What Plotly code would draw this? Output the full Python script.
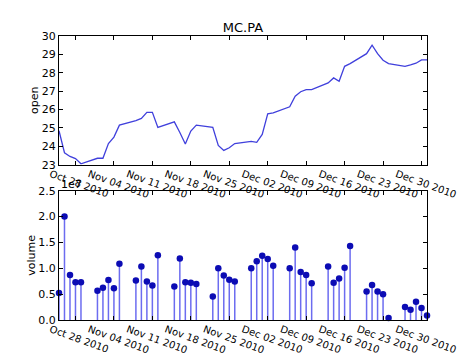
import plotly.graph_objects as go
from plotly.subplots import make_subplots

dates = [
    "2010-10-25", "2010-10-26", "2010-10-27", "2010-10-28", "2010-10-29",
    "2010-11-01", "2010-11-02", "2010-11-03", "2010-11-04", "2010-11-05",
    "2010-11-08", "2010-11-09", "2010-11-10", "2010-11-11", "2010-11-12",
    "2010-11-15", "2010-11-16", "2010-11-17", "2010-11-18", "2010-11-19",
    "2010-11-22", "2010-11-23", "2010-11-24", "2010-11-25", "2010-11-26",
    "2010-11-29", "2010-11-30", "2010-12-01", "2010-12-02", "2010-12-03",
    "2010-12-06", "2010-12-07", "2010-12-08", "2010-12-09", "2010-12-10",
    "2010-12-13", "2010-12-14", "2010-12-15", "2010-12-16", "2010-12-17",
    "2010-12-20", "2010-12-21", "2010-12-22", "2010-12-23", "2010-12-24",
    "2010-12-27", "2010-12-28", "2010-12-29", "2010-12-30", "2010-12-31",
]

open_prices = [
    24.85, 23.65, 23.45, 23.33, 23.05,
    23.35, 23.35, 24.15, 24.50, 25.15,
    25.40, 25.52, 25.85, 25.85, 25.03,
    25.33, 24.75, 24.13, 24.83, 25.15,
    25.03, 24.05, 23.78, 23.92, 24.15,
    24.27, 24.22, 24.65, 25.77, 25.82,
    26.15, 26.73, 26.97, 27.08, 27.08,
    27.45, 27.72, 27.54, 28.35, 28.50,
    29.04, 29.50, 29.04, 28.68, 28.50,
    28.35, 28.43, 28.52, 28.70, 28.70,
]

volume = [
    5200000, 20000000, 8700000, 7300000, 7300000,
    5650000, 6250000, 7750000, 6150000, 10900000,
    7650000, 10350000, 7450000, 6650000, 12500000,
    6500000, 11900000, 7300000, 7200000, 6950000,
    4550000, 10000000, 8600000, 7800000, 7450000,
    10000000, 11350000, 12400000, 11800000, 10500000,
    10000000, 14000000, 9300000, 8700000, 7100000,
    10350000, 7200000, 8000000, 10100000, 14300000,
    5500000, 6750000, 5500000, 5000000, 400000,
    2500000, 2000000, 3550000, 2300000, 850000,
]

title_text = "MC.PA"
open_label = "open"
volume_label = "volume"
offset_text = "1e7"
vol_tickvals = [0, 5000000, 10000000, 15000000, 20000000, 25000000]
vol_ticktext = ["0.0", "0.5", "1.0", "1.5", "2.0", "2.5"]

FONT = "DejaVu Sans"

# page body has an 8px margin; compensate so the figure lands where the reference is
W, H = 466, 347
L, R, T, B = 51, 47, 28, 35

fig = make_subplots(rows=2, cols=1, shared_xaxes=False, vertical_spacing=0.09)

fig.add_trace(go.Scatter(x=dates, y=open_prices, mode="lines",
                         line=dict(color="#4040dc", width=1.3),
                         showlegend=False, hoverinfo="skip"), row=1, col=1)

# stems built from the data
stem_x, stem_y = [], []
for d, v in zip(dates, volume):
    stem_x += [d, d, None]
    stem_y += [0, v, None]
fig.add_trace(go.Scatter(x=stem_x, y=stem_y, mode="lines",
                         line=dict(color="#6c6cf0", width=1.5),
                         showlegend=False, hoverinfo="skip"), row=2, col=1)
fig.add_trace(go.Scatter(x=dates, y=volume, mode="markers",
                         marker=dict(color="#0c0cb4", size=6.5),
                         showlegend=False, hoverinfo="skip", cliponaxis=False), row=2, col=1)

xcommon = dict(
    type="date", range=["2010-10-25", "2010-12-31"],
    tick0="2010-10-28", dtick=7 * 24 * 3600 * 1000, tickformat="%b %d %Y",
    tickangle=20, ticks="inside", ticklen=4, tickcolor="black",
    showline=True, linecolor="black", linewidth=1, mirror="allticks",
    showgrid=False, zeroline=False, automargin=False,
    tickfont=dict(family=FONT, size=10, color="black"),
    ticklabelshift=-25, ticklabelstandoff=-1,
)
fig.update_xaxes(**xcommon)
fig.update_xaxes(domain=[0, 1])

ph = H - T - B
top_lo = (H - B - (164.7 - 8)) / ph
bot_hi = (H - B - (190.7 - 8)) / ph

ycommon = dict(
    ticks="inside", ticklen=4, tickcolor="black",
    showline=True, linecolor="black", linewidth=1, mirror="allticks",
    showgrid=False, zeroline=False, automargin=False,
    tickfont=dict(family=FONT, size=11, color="black"),
)
fig.update_yaxes(**ycommon)
fig.update_yaxes(range=[23, 30], dtick=1, domain=[top_lo, 1.0],
                 title=dict(text=open_label, font=dict(family=FONT, size=11, color="black"), standoff=0),
                 row=1, col=1)
fig.update_yaxes(range=[0, 25000000], tickvals=vol_tickvals, ticktext=vol_ticktext,
                 domain=[0.0, bot_hi],
                 title=dict(text=volume_label, font=dict(family=FONT, size=11, color="black"), standoff=0),
                 row=2, col=1)

fig.add_annotation(text=offset_text, xref="paper", yref="paper", x=0.0, y=bot_hi,
                   xanchor="left", yanchor="bottom", showarrow=False, yshift=-2,
                   font=dict(family=FONT, size=11, color="black"))

fig.update_layout(
    width=W, height=H,
    margin=dict(l=L, r=R, t=T, b=B),
    paper_bgcolor="white", plot_bgcolor="white",
    title=dict(text=title_text, x=(L + (W - R)) / 2 / W, xanchor="center", y=1 - 19 / H, yanchor="middle",
               yref="container", font=dict(family=FONT, size=13, color="black")),
    font=dict(family=FONT, color="black"),
)

fig.write_html("out.html")
